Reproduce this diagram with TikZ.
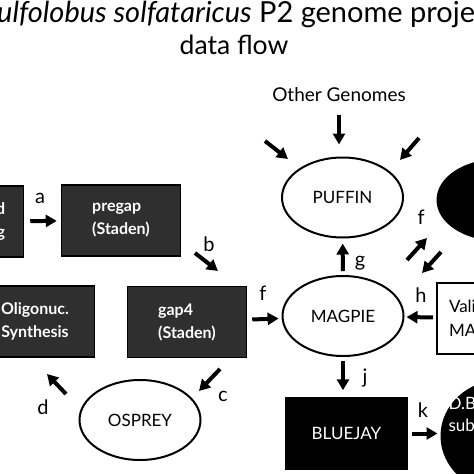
\documentclass[tikz,border=0pt]{standalone}
\usepackage{fontspec}
\setmainfont{Lato}
\usetikzlibrary{shapes.geometric,arrows.meta}
\definecolor{ink}{HTML}{000000}
\definecolor{paper}{HTML}{FFFFFF}
\definecolor{grain}{HTML}{2F2F2F}
\tikzset{
  title/.style={font=\fontsize{26.5}{30}\selectfont, text=ink},
  box/.style={draw=ink, line width=1.5pt, fill=grain, text=paper, inner sep=0pt,
    minimum width=119pt, minimum height=71pt, align=left,
    font=\fontsize{16}{23}\selectfont\bfseries},
  darkbox/.style={draw=ink, line width=1.5pt, fill=ink, text=paper, inner sep=0pt,
    minimum width=121pt, minimum height=71pt, font=\fontsize{17}{22}\selectfont},
  openbox/.style={draw=ink, line width=2pt, fill=paper, text=ink, inner sep=0pt,
    minimum width=120pt, minimum height=71pt, text width=96pt, align=left,
    font=\fontsize{17}{24}\selectfont},
  oval/.style={ellipse, draw=ink, line width=2pt, fill=paper, text=ink, inner sep=0pt,
    minimum width=121pt, minimum height=80pt, font=\fontsize{17}{22}\selectfont},
  blob/.style={oval, fill=ink, text=paper, text width=1pt, align=left},
  arr/.style={-{Triangle[length=11pt,width=12pt]}, line width=4pt, draw=ink},
  lab/.style={font=\fontsize{20}{24}\selectfont, text=ink, anchor=base}
}

\begin{document}
\begin{tikzpicture}[x=1pt,y=-1pt]
  \useasboundingbox (0,0) rectangle (474,474);
  \clip (0,0) rectangle (474,474);

  % title
  \node[title, anchor=base, font=\fontsize{29}{32}\selectfont] (head1) at (241,22)
    {\textit{Sulfolobus solfataricus} P2 genome project};
  \node[title, anchor=base] (head2) at (234,54) {data flow};

  % sequencing side
  \node[box, align=right] (auto) at (-36,221.5) {Automated\\Sequencing};
  \node[box] (pregap) at (121,220.5) {pregap\\(Staden)};
  \node[box, align=center] (oligo) at (35,321.5) {Oligonuc.\\Synthesis};
  \node[box] (gap4) at (187,322) {gap4\\(Staden)};
  \node[oval] (osprey) at (140,420) {OSPREY};

  % annotation side
  \node[font=\fontsize{19}{22}\selectfont] (genomes) at (339,95) {Other Genomes};
  \node[oval] (puffin) at (342.5,197.5) {PUFFIN};
  \node[oval] (magpie) at (343,316) {MAGPIE};
  \node[darkbox] (bluejay) at (346.5,433.5) {BLUEJAY};
  \node[openbox] (valid) at (497,318.5) {Validated\\MAGPIE};
  \node[blob] (public) at (498,200) {\hspace*{-24pt}Public};
  \node[blob] (submit) at (502,436) {\hspace*{-53pt}D.B.\\\hspace*{-53pt}submission};

  % loose arrow ends
  \coordinate (b1) at (195,253);  \coordinate (b2) at (218,271);
  \coordinate (c1) at (220,369);  \coordinate (c2) at (199,391);
  \coordinate (d1) at (66,394);   \coordinate (d2) at (47,374);
  \coordinate (p1) at (265,141);  \coordinate (p2) at (288,159);
  \coordinate (q1) at (419,138);  \coordinate (q2) at (400,160);
  \coordinate (u1) at (407,260);  \coordinate (u2) at (427,238);
  \coordinate (w1) at (441,252);  \coordinate (w2) at (422,273);

  % arrows
  \draw[arr, shorten <=6pt, shorten >=4pt] (auto) -- (pregap);
  \draw[arr, shorten <=5pt, shorten >=3pt] (gap4) -- (magpie);
  \draw[arr, shorten <=4pt, shorten >=5pt] (magpie) -- (puffin);
  \draw[arr, shorten <=4pt, shorten >=7pt] (magpie.south) -- (magpie.south |- bluejay.north);
  \draw[arr, shorten <=4pt, shorten >=3pt] (bluejay.east) -- (bluejay.east -| submit.west);
  \draw[arr, shorten <=3pt, shorten >=2pt] (valid) -- (magpie);
  \draw[arr, shorten <=9pt, shorten >=12pt] (genomes.south) -- (genomes.south |- puffin.north);
  \foreach \n in {b,c,d,p,q,u,w}{
    \draw[arr] (\n1) -- (\n2);
  }

  % step letters
  \foreach \t/\x/\y [count=\i] in {a/40/203, b/209/251, f/263/300, c/223/401, d/43/414,
      g/360/266, j/365/383, k/423/417, h/421/302, f/421/224}{
    \node[lab] (step\i) at (\x,\y) {\t};
  }
\end{tikzpicture}
\end{document}
